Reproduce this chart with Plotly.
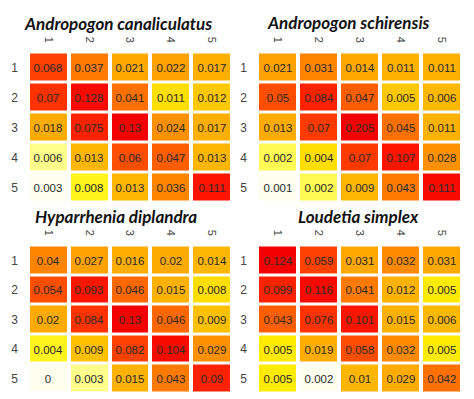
import numpy as np
import plotly.graph_objects as go

titles = ["Andropogon canaliculatus", "Andropogon schirensis",
          "Hyparrhenia diplandra", "Loudetia simplex"]
col_labels = ["1", "2", "3", "4", "5"]
row_labels = ["1", "2", "3", "4", "5"]

andropogon_canaliculatus = [
    [0.068, 0.037, 0.021, 0.022, 0.017],
    [0.07, 0.128, 0.041, 0.011, 0.012],
    [0.018, 0.075, 0.13, 0.024, 0.017],
    [0.006, 0.013, 0.06, 0.047, 0.013],
    [0.003, 0.008, 0.013, 0.036, 0.111],
]
andropogon_schirensis = [
    [0.021, 0.031, 0.014, 0.011, 0.011],
    [0.05, 0.084, 0.047, 0.005, 0.006],
    [0.013, 0.07, 0.205, 0.045, 0.011],
    [0.002, 0.004, 0.07, 0.107, 0.028],
    [0.001, 0.002, 0.009, 0.043, 0.111],
]
hyparrhenia_diplandra = [
    [0.04, 0.027, 0.016, 0.02, 0.014],
    [0.054, 0.093, 0.046, 0.015, 0.008],
    [0.02, 0.084, 0.13, 0.046, 0.009],
    [0.004, 0.009, 0.082, 0.104, 0.029],
    [0.0, 0.003, 0.015, 0.043, 0.09],
]
loudetia_simplex = [
    [0.124, 0.059, 0.031, 0.032, 0.031],
    [0.099, 0.116, 0.041, 0.012, 0.005],
    [0.043, 0.076, 0.101, 0.015, 0.006],
    [0.005, 0.019, 0.058, 0.032, 0.005],
    [0.005, 0.002, 0.01, 0.029, 0.042],
]
panels = [andropogon_canaliculatus, andropogon_schirensis,
          hyparrhenia_diplandra, loudetia_simplex]

colorscale = [
    [0.0, "#FFFFFF"],
    [0.04, "#FFFFF0"],
    [0.08, "#FFFF8C"],
    [0.13, "#FFF200"],
    [0.18, "#FFD000"],
    [0.24, "#FFB800"],
    [0.5, "#FFA800"],
    [0.58, "#FF8A00"],
    [0.68, "#FF7000"],
    [0.74, "#FF5500"],
    [0.82, "#FF3A00"],
    [0.9, "#FF1A00"],
    [1.0, "#F50000"],
]

W, H = 474, 399
# pixel extents of each panel's cell grid (x0, x1, ytop, ybottom)
boxes = [(20, 224, 44.5, 194.5), (249, 454, 44.5, 194.5),
         (20, 224, 237.5, 385.5), (249, 454, 237.5, 385.5)]
title_pos = [(110, 15), (340, 14), (108, 208), (350, 208)]


def rank_pct(a):
    flat = np.asarray(a, dtype=float).ravel()
    order = flat.argsort(kind="stable")
    ranks = np.empty_like(flat)
    ranks[order] = np.arange(1, flat.size + 1)
    for v in np.unique(flat):
        m = flat == v
        ranks[m] = ranks[m].mean()
    return (ranks / flat.size).reshape(np.shape(a))


fig = go.Figure()
for i, (vals, (x0, x1, yt, yb)) in enumerate(zip(panels, boxes)):
    n = i + 1
    xa = "x" if n == 1 else f"x{n}"
    ya = "y" if n == 1 else f"y{n}"
    text = [[f"{v:g}" for v in row] for row in vals]
    fig.add_trace(go.Heatmap(
        z=rank_pct(vals), x=col_labels, y=row_labels,
        text=text, texttemplate="%{text}",
        textfont=dict(size=11.5, color="#2a2a2a", family="Liberation Sans, Arial"),
        colorscale=colorscale, zmin=0, zmax=1, showscale=False,
        xgap=4, ygap=3, hoverinfo="skip", xaxis=xa, yaxis=ya,
    ))
    xk = "xaxis" if n == 1 else f"xaxis{n}"
    yk = "yaxis" if n == 1 else f"yaxis{n}"
    fig.layout[xk] = dict(
        domain=[x0 / W, x1 / W], anchor=ya, side="top", tickangle=90,
        showgrid=False, zeroline=False, showline=False, ticks="",
        tickfont=dict(size=11, color="#444", family="Liberation Sans, Arial"),
        type="category", ticklabelstandoff=7,
    )
    fig.layout[yk] = dict(
        domain=[1 - yb / H, 1 - yt / H], anchor=xa, autorange="reversed",
        showgrid=False, zeroline=False, showline=False, ticks="",
        tickfont=dict(size=12, color="#444", family="Liberation Sans, Arial"),
        type="category", ticklabelstandoff=9,
    )
    tx, ty = title_pos[i]
    fig.add_annotation(
        x=tx / W, y=1 - ty / H, xref="paper", yref="paper",
        text=f"<b><i>{titles[i]}</i></b>", showarrow=False,
        font=dict(size=17, color="#111", family="Lato, Open Sans"),
        xanchor="center", yanchor="middle",
    )

fig.update_layout(
    width=W, height=H, margin=dict(l=0, r=0, t=0, b=0),
    paper_bgcolor="white", plot_bgcolor="white",
)
fig.write_html("out.html")
